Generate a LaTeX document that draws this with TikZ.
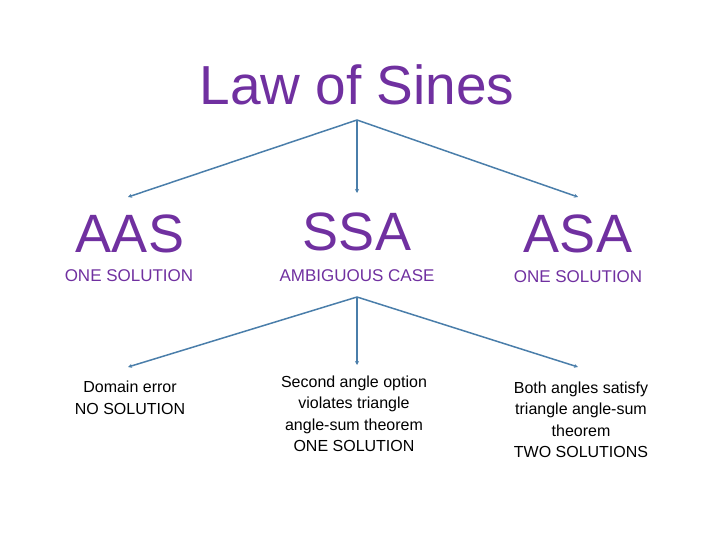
\documentclass[tikz,border=0pt]{standalone}
\usepackage{fontspec}
\usetikzlibrary{arrows.meta}
\setmainfont{Liberation Sans}
\definecolor{ttl}{RGB}{112,48,160}
\definecolor{ln}{RGB}{74,126,170}
\begin{document}
\begin{tikzpicture}[x=1pt,y=-1pt,
  big/.style={text=ttl,font=\fontsize{54}{58}\selectfont,inner sep=0pt},
  sub/.style={text=ttl,font=\fontsize{17}{20}\selectfont,inner sep=0pt},
  note/.style={text=black,font=\fontsize{16}{17}\selectfont,align=center,inner sep=0pt},
  conn/.style={draw=ln,line width=1.5pt,-{Stealth[length=4pt,width=4pt]}}]
\useasboundingbox (0,0) rectangle (720,540);
\node[text=ttl,font=\fontsize{55}{60}\selectfont,inner sep=0pt] (title) at (357,85) {Law of Sines};
\coordinate (j1) at (357,120);
\coordinate (a1) at (128,197);
\coordinate (a2) at (357,193);
\coordinate (a3) at (578,197);
\draw[conn] (j1) -- (a1);
\draw[conn] (j1) -- (a2);
\draw[conn] (j1) -- (a3);
\node[big] (aas) at (130,234) {AAS};
\node[big] (ssa) at (357,232) {SSA};
\node[big] (asa) at (578,234) {ASA};
\node[sub] (s1) at (129,276) {ONE SOLUTION};
\node[sub] (s2) at (357,276) {AMBIGUOUS CASE};
\node[sub] (s3) at (578,277) {ONE SOLUTION};
\coordinate (j2) at (357,297);
\coordinate (b1) at (128,367);
\coordinate (b2) at (357,365);
\coordinate (b3) at (578,367);
\draw[conn] (j2) -- (b1);
\draw[conn] (j2) -- (b2);
\draw[conn] (j2) -- (b3);
\node[note,font=\fontsize{16}{21.5}\selectfont] (n1) at (130,398) {Domain error\\NO SOLUTION};
\node[note,font=\fontsize{16}{21.5}\selectfont] (n2) at (354,414) {Second angle option\\violates triangle\\angle-sum theorem\\ONE SOLUTION};
\node[note,font=\fontsize{16}{21.5}\selectfont] (n3) at (581,420) {Both angles satisfy\\triangle angle-sum\\theorem\\TWO SOLUTIONS};
\end{tikzpicture}
\end{document}
